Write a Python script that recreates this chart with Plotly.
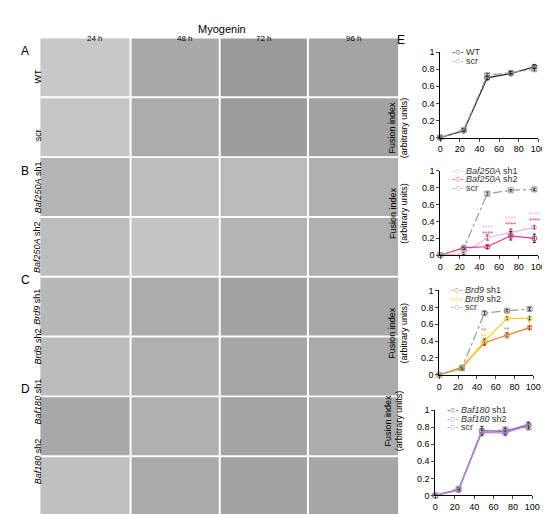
import plotly.graph_objects as go

W, H = 550, 514

hours = [0, 24, 48, 72, 96]
col_labels = ["24 h", "48 h", "72 h", "96 h"]
row_labels = ["WT", "scr", "<i>Baf250A</i> sh1", "<i>Baf250A</i> sh2",
              "<i>Brd9</i> sh1", "<i>Brd9</i> sh2", "<i>Baf180</i> sh1", "<i>Baf180</i> sh2"]
tile_shades = [["#c8c8c8", "#a9a9a9", "#9a9a9a", "#a4a4a4"],
               ["#c6c6c6", "#acacac", "#9c9c9c", "#a2a2a2"],
               ["#b4b4b4", "#bdbdbd", "#b9b9b9", "#b0b0b0"],
               ["#bdbdbd", "#c4c4c4", "#b4b4b4", "#afafaf"],
               ["#b8b8b8", "#acacac", "#a2a2a2", "#a8a8a8"],
               ["#bcbcbc", "#b0b0b0", "#a6a6a6", "#aaaaaa"],
               ["#a8a8a8", "#b0b0b0", "#a4a4a4", "#acacac"],
               ["#c0c0c0", "#aaaaaa", "#a2a2a2", "#a6a6a6"]]

wt = [0, 0.08, 0.70, 0.75, 0.83]
wt_err = [0.005, 0.01, 0.02, 0.015, 0.02]
scr1 = [0, 0.09, 0.73, 0.76, 0.80]
scr1_err = [0.005, 0.01, 0.02, 0.015, 0.02]

baf250_sh1 = [0, 0.02, 0.21, 0.27, 0.33]
baf250_sh1_err = [0.005, 0.01, 0.03, 0.04, 0.02]
baf250_sh2 = [0, 0.09, 0.10, 0.23, 0.20]
baf250_sh2_err = [0.005, 0.01, 0.02, 0.05, 0.05]
scr2 = [0, 0.08, 0.73, 0.77, 0.78]
scr2_err = [0.005, 0.01, 0.02, 0.01, 0.015]

brd9_sh1 = [0, 0.09, 0.38, 0.47, 0.56]
brd9_sh1_err = [0.005, 0.01, 0.03, 0.03, 0.02]
brd9_sh2 = [0, 0.07, 0.40, 0.67, 0.67]
brd9_sh2_err = [0.005, 0.01, 0.03, 0.02, 0.02]
scr3 = [0, 0.08, 0.73, 0.76, 0.78]
scr3_err = [0.005, 0.01, 0.02, 0.015, 0.015]

baf180_sh1 = [0, 0.07, 0.76, 0.75, 0.83]
baf180_sh1_err = [0.005, 0.01, 0.05, 0.04, 0.03]
baf180_sh2 = [0, 0.06, 0.74, 0.73, 0.82]
baf180_sh2_err = [0.005, 0.01, 0.04, 0.03, 0.03]
scr4 = [0, 0.08, 0.75, 0.77, 0.80]
scr4_err = [0.005, 0.01, 0.03, 0.03, 0.03]

panels = [
    [("WT", wt, wt_err, "#222222", "circle-open", "solid"),
     ("scr", scr1, scr1_err, "#9a9a9a", "square-open", "dashdot")],
    [("<i>Baf250A</i> sh1", baf250_sh1, baf250_sh1_err, "#f4b6cf", "circle-open", "solid"),
     ("<i>Baf250A</i> sh2", baf250_sh2, baf250_sh2_err, "#e8308c", "circle-open", "solid"),
     ("scr", scr2, scr2_err, "#9a9a9a", "square-open", "dashdot")],
    [("<i>Brd9</i> sh1", brd9_sh1, brd9_sh1_err, "#f07d2a", "circle-open", "solid"),
     ("<i>Brd9</i> sh2", brd9_sh2, brd9_sh2_err, "#f5cc2a", "circle-open", "solid"),
     ("scr", scr3, scr3_err, "#9a9a9a", "square-open", "dashdot")],
    [("<i>Baf180</i> sh1", baf180_sh1, baf180_sh1_err, "#7a3fd0", "circle-open", "solid"),
     ("<i>Baf180</i> sh2", baf180_sh2, baf180_sh2_err, "#c27ae8", "circle-open", "solid"),
     ("scr", scr4, scr4_err, "#9a9a9a", "square-open", "dashdot")],
]
# pixel boxes of each plot area: x0, x1, ytop(value 1), ybottom(value 0)
boxes = [(438, 538, 40, 127), (438, 538, 161, 247), (437, 533, 283, 369), (433, 532, 405, 492)]

# asterisk marks: panel, x, y, text, colour
stars = [(1, 48, 0.33, "****", "#f4b6cf"), (1, 48, 0.26, "****", "#e8308c"),
         (1, 72, 0.43, "****", "#f4b6cf"), (1, 72, 0.36, "****", "#e8308c"),
         (1, 96, 0.48, "****", "#f4b6cf"), (1, 96, 0.41, "****", "#e8308c"),
         (2, 48, 0.52, "**", "#f07d2a"), (2, 48, 0.45, "**", "#f5cc2a"),
         (2, 72, 0.54, "**", "#f07d2a"), (2, 96, 0.62, "*", "#f07d2a")]

fig = go.Figure()
font = "Liberation Sans, Arial, sans-serif"
ann = []
shapes = []

for i, (series, (x0, x1, yt, yb)) in enumerate(zip(panels, boxes)):
    n = "" if i == 0 else str(i + 1)
    for name, vals, err, col, sym, dash in series:
        fig.add_trace(go.Scatter(
            x=hours, y=vals, mode="lines+markers", name=name, showlegend=False,
            xaxis="x" + n, yaxis="y" + n, cliponaxis=False,
            line=dict(color=col, width=1.2, dash=dash),
            marker=dict(symbol=sym, size=5, color=col, line=dict(width=1)),
            error_y=dict(type="data", array=err, color="#222222", thickness=1, width=1.5)))
    fig.layout["xaxis" + n] = dict(
        domain=[x0 / W, x1 / W], anchor="y" + n, range=[0, 100], tickvals=[0, 20, 40, 60, 80, 100],
        showgrid=False, zeroline=False, showline=True, linecolor="black", ticks="outside",
        ticklen=3, tickfont=dict(size=9, color="black"))
    fig.layout["yaxis" + n] = dict(
        domain=[1 - yb / H, 1 - yt / H], anchor="x" + n, range=[0, 1],
        tickvals=[0, 0.2, 0.4, 0.6, 0.8, 1], ticktext=["0", "0.2", "0.4", "0.6", "0.8", "1"],
        showgrid=False, zeroline=False, showline=True, linecolor="black", ticks="outside",
        ticklen=3, tickfont=dict(size=9, color="black"))
    ann.append(dict(xref="paper", yref="paper", x=(x0 - 29) / W, y=1 - (yt + yb) / 2 / H,
                    text="Fusion index<br>(arbitrary units)", textangle=-90, showarrow=False,
                    font=dict(size=9, color="black")))
    for k, (name, vals, err, col, sym, dash) in enumerate(series):
        ann.append(dict(xref="x" + n, yref="y" + n, x=10, y=1.0 - k * 0.1, xanchor="left",
                        text=f"<span style='color:{col}'>-○-</span> {name}", showarrow=False,
                        font=dict(size=9, color="#333333")))

for p, x, y, t, c in stars:
    n = "" if p == 0 else str(p + 1)
    ann.append(dict(xref="x" + n, yref="y" + n, x=x, y=y, text=t, showarrow=False,
                    font=dict(size=7, color=c)))

# image tile placeholders
col_x = [(30, 121), (123, 212), (214, 302), (304, 395)]
for r in range(8):
    y0 = 26 + r * 61
    for c, (a, b) in enumerate(col_x):
        shapes.append(dict(type="rect", xref="paper", yref="paper", x0=a / W, x1=b / W,
                           y0=1 - (y0 + 59) / H, y1=1 - y0 / H, line=dict(width=0),
                           fillcolor=tile_shades[r][c], layer="below"))
    ann.append(dict(xref="paper", yref="paper", x=20 / W, y=1 - (y0 + 30) / H, text=row_labels[r],
                    textangle=-90, showarrow=False, font=dict(size=9, color="black")))
for c, (a, b) in enumerate(col_x):
    ann.append(dict(xref="paper", yref="paper", x=(a + b) / 2 / W, y=1 - 19 / H, text=col_labels[c],
                    showarrow=False, font=dict(size=8, color="black")))
ann.append(dict(xref="paper", yref="paper", x=215 / W, y=1 - 8 / H, text="Myogenin",
                showarrow=False, font=dict(size=11, color="black")))
for lab, xx, yy in [("A", 8, 30), ("B", 8, 152), ("C", 8, 272), ("D", 8, 393), ("E", 404, 18)]:
    ann.append(dict(xref="paper", yref="paper", x=xx / W, y=1 - yy / H, text=lab,
                    showarrow=False, font=dict(size=12, color="black")))

fig.update_layout(width=W, height=H, margin=dict(l=0, r=0, t=0, b=0),
                  plot_bgcolor="rgba(0,0,0,0)", paper_bgcolor="white", font=dict(family=font),
                  annotations=ann, shapes=shapes)
fig.write_html("out.html")
